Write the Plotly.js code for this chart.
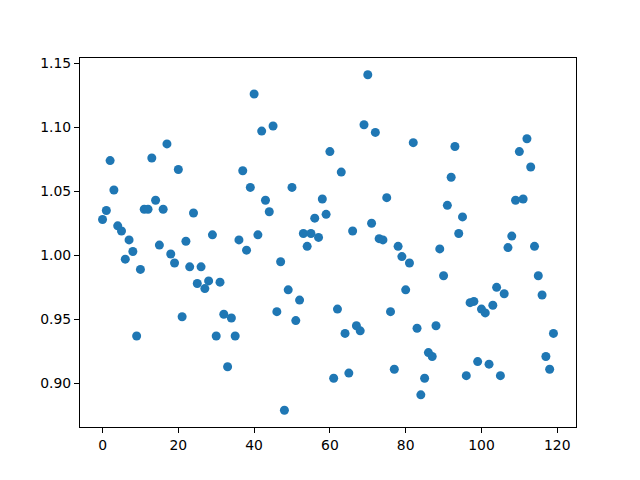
<!DOCTYPE html>
<html>
<head>
<meta charset="utf-8">
<script src="https://cdn.plot.ly/plotly-3.0.1.min.js"></script>
<style>html,body{margin:0;padding:0;background:#fff;}#chart{width:640px;height:480px;}</style>
</head>
<body>
<div id="chart"></div>
<script>
const yValues = [
  1.028, 1.035, 1.074, 1.051, 1.023, 1.019, 0.997, 1.012, 1.003, 0.937,
  0.989, 1.036, 1.036, 1.076, 1.043, 1.008, 1.036, 1.087, 1.001, 0.994,
  1.067, 0.952, 1.011, 0.991, 1.033, 0.978, 0.991, 0.974, 0.980, 1.016,
  0.937, 0.979, 0.954, 0.913, 0.951, 0.937, 1.012, 1.066, 1.004, 1.053,
  1.126, 1.016, 1.097, 1.043, 1.034, 1.101, 0.956, 0.995, 0.879, 0.973,
  1.053, 0.949, 0.965, 1.017, 1.007, 1.017, 1.029, 1.014, 1.044, 1.032,
  1.081, 0.904, 0.958, 1.065, 0.939, 0.908, 1.019, 0.945, 0.941, 1.102,
  1.141, 1.025, 1.096, 1.013, 1.012, 1.045, 0.956, 0.911, 1.007, 0.999,
  0.973, 0.994, 1.088, 0.943, 0.891, 0.904, 0.924, 0.921, 0.945, 1.005,
  0.984, 1.039, 1.061, 1.085, 1.017, 1.030, 0.906, 0.963, 0.964, 0.917,
  0.958, 0.955, 0.915, 0.961, 0.975, 0.906, 0.970, 1.006, 1.015, 1.043,
  1.081, 1.044, 1.091, 1.069, 1.007, 0.984, 0.969, 0.921, 0.911, 0.939
];
const xValues = yValues.map((_, i) => i);
const xTicks = [0, 20, 40, 60, 80, 100, 120];
const yTicks = [0.90, 0.95, 1.00, 1.05, 1.10, 1.15];

const trace = {
  x: xValues,
  y: yValues,
  type: 'scatter',
  mode: 'markers',
  marker: {color: '#1f77b4', size: 9, line: {width: 0}},
  hoverinfo: 'none'
};

const axisCommon = {
  showgrid: false,
  zeroline: false,
  showline: true,
  mirror: true,
  linecolor: '#000',
  linewidth: 1,
  ticks: 'outside',
  ticklen: 5,
  tickwidth: 1,
  tickcolor: '#000',
  tickfont: {family: 'DejaVu Sans', size: 13.9, color: '#000'}
};

const layout = {
  width: 640,
  height: 480,
  margin: {l: 80, r: 64, t: 58, b: 53, pad: 0},
  paper_bgcolor: '#fff',
  plot_bgcolor: '#fff',
  showlegend: false,
  xaxis: Object.assign({}, axisCommon, {
    range: [-5.95, 124.95],
    tickvals: xTicks,
    ticktext: xTicks.map(String)
  }),
  yaxis: Object.assign({}, axisCommon, {
    range: [0.8659, 1.1541],
    tickvals: yTicks,
    ticktext: yTicks.map(v => v.toFixed(2))
  })
};

Plotly.newPlot('chart', [trace], layout, {staticPlot: true, displayModeBar: false});
</script>
</body>
</html>
